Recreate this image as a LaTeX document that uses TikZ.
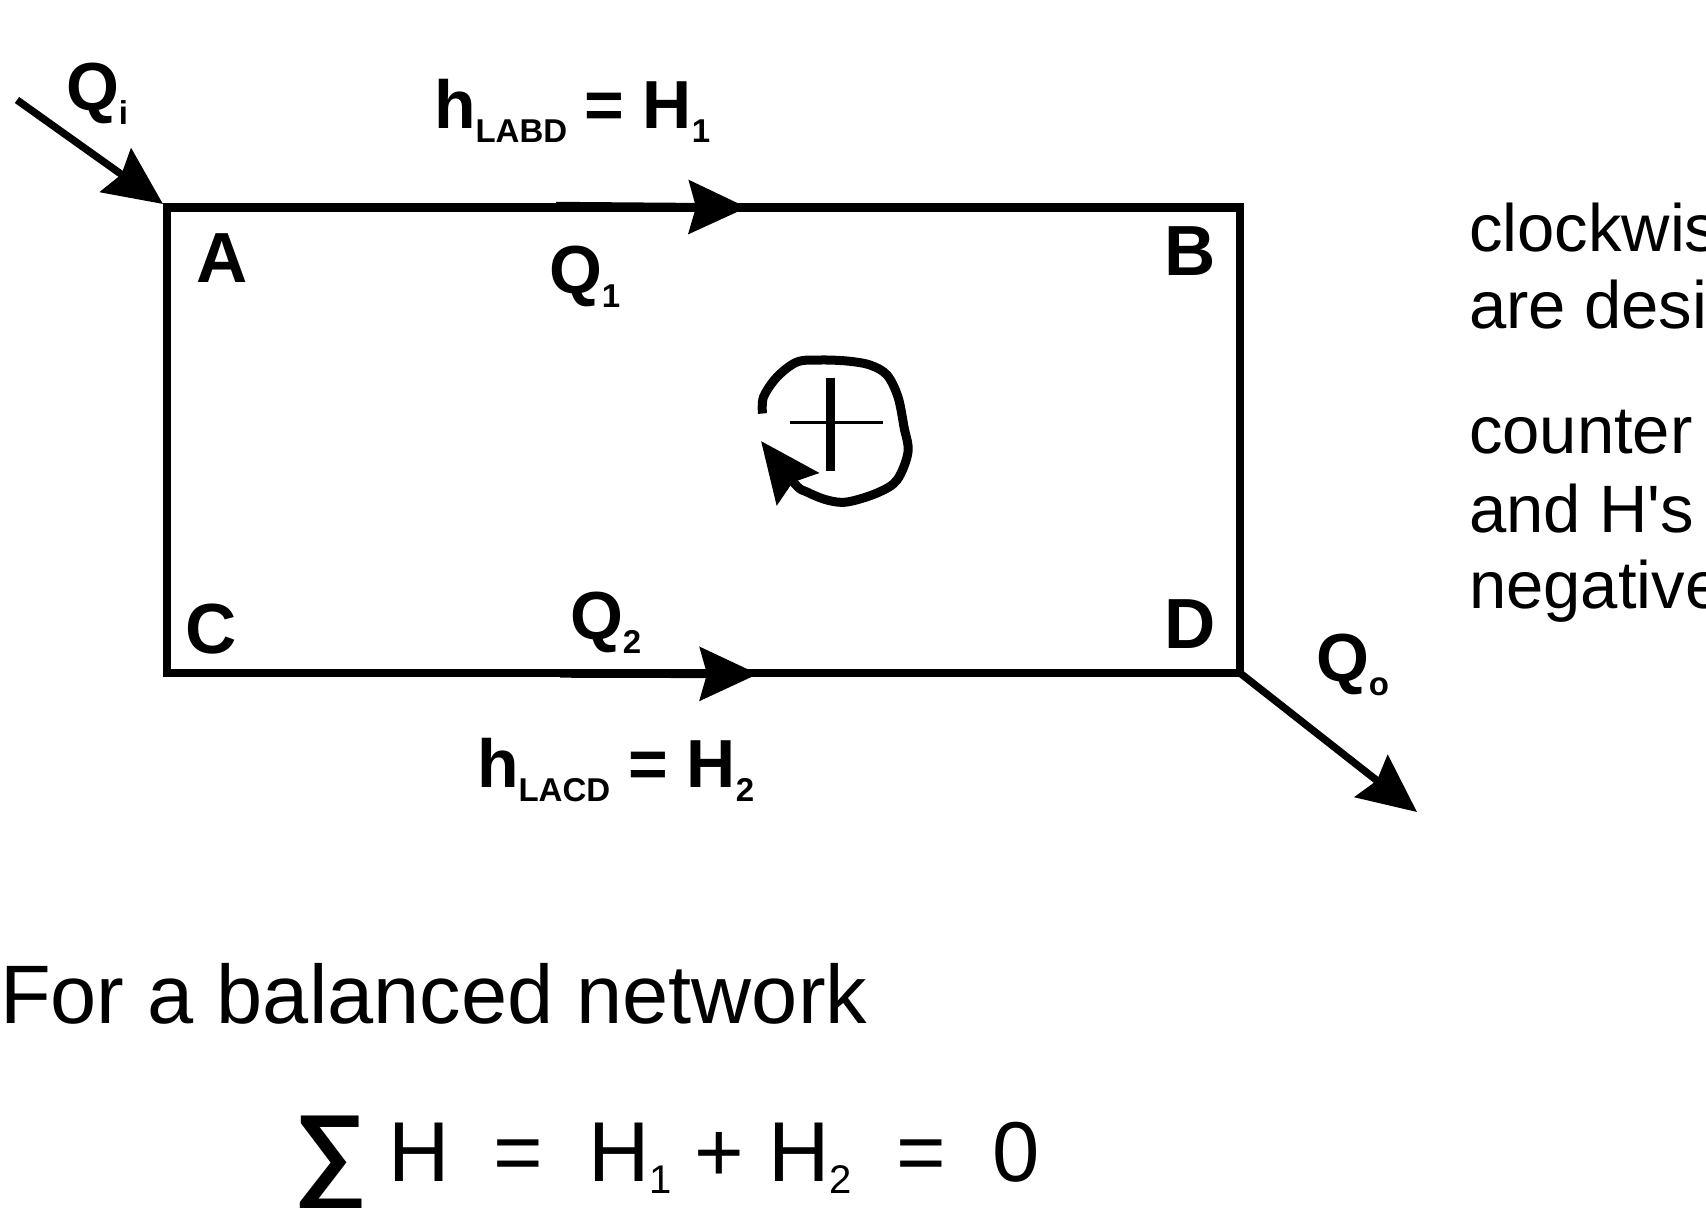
\documentclass[tikz,border=0pt]{standalone}
\usepackage{fontspec}
\setmainfont[Ligatures=TeXOff]{Liberation Sans}
\usetikzlibrary{arrows.meta}
\newcommand{\boldlab}{\fontsize{34pt}{40pt}\selectfont\bfseries}
\newcommand{\cornerlab}{\fontsize{35.5pt}{40pt}\selectfont\bfseries}
\newcommand{\lowlab}[1]{\raisebox{-7pt}{\fontsize{16.5pt}{20pt}\selectfont\bfseries #1}}
\newcommand{\lowplain}[1]{\raisebox{-6pt}{\fontsize{20pt}{24pt}\selectfont #1}}
\newcommand{\gapx}[1]{\hspace*{#1pt}}
\tikzset{
  x=0.5pt,y=-0.5pt,
  lab/.style={inner sep=0pt,outer sep=0pt,anchor=base west,font=\boldlab},
  cornertext/.style={inner sep=0pt,outer sep=0pt,anchor=base west,font=\cornerlab},
  plain/.style={inner sep=0pt,outer sep=0pt,anchor=base west},
  sidetext/.style={plain,font=\fontsize{33.5pt}{40pt}\selectfont},
  flowtip/.tip={Stealth[length=29pt,width=26.5pt,inset=3.5pt]},
  edge/.style={line width=4.4pt,miter limit=10},
  branch/.style={line width=3.7pt},
}
\begin{document}
\begin{tikzpicture}
\useasboundingbox (0,0) rectangle (1706,1207);
% junctions
\coordinate (cA) at (167,207.5);
\coordinate (cB) at (1240,207.5);
\coordinate (cC) at (167,673);
\coordinate (cD) at (1240,673);
\coordinate (qin) at (17,100);
\coordinate (qintip) at (163,204);
\coordinate (qout) at (1417,812);
\coordinate (t1) at (556,206);
\coordinate (t2) at (747,207.5);
\coordinate (b1) at (560,673.5);
\coordinate (b2) at (758,674);
% pipe loop
\draw[edge] (cA) -- (cB) -- (cD) -- (cC) -- cycle;
\draw[branch,-{flowtip}] (qin) -- (qintip);
\draw[branch,-{flowtip}] (cD) -- (qout);
\draw[line width=4.2pt,-{flowtip}] (t1) -- (t2);
\draw[line width=4.2pt,-{flowtip}] (b1) -- (b2);
% sign circle
\draw[line width=4.5pt,line join=round,-{Stealth[length=30pt,width=26pt,inset=4pt]}]
  plot[smooth,tension=0.55] coordinates {(762.5,413.5) (763.5,397) (777,377) (797,362) (820,360) (847,361) (870,365) (887,375) (898,397) (904,427) (908,452) (897,480) (877,493) (847,502) (827,500) (807,492) (795,484) (761,441)};
\draw[line width=4.5pt] (830.5,377.5) -- (830.5,471);
\draw[line width=1.7pt] (790,422.5) -- (883,422.5);
% labels
\node[lab] (Qi) at (66,110) {Q\lowlab{i}};
\node[lab] (h1) at (434,128) {h\lowlab{LABD}\gapx{8.5}=\gapx{9.4}H\lowlab{1}};
\node[cornertext] (labA) at (196,282) {A};
\node[cornertext] (labB) at (1164,275) {B};
\node[cornertext] (labC) at (185,653) {C};
\node[cornertext] (labD) at (1164,648) {D};
\node[lab] (Q1) at (549,293) {Q\lowlab{1}};
\node[lab] (Q2) at (570,639) {Q\lowlab{2}};
\node[lab] (Qo) at (1316,681) {Q\lowlab{o}};
\node[lab] (h2) at (477,787) {h\lowlab{LACD}\gapx{9}=\gapx{9.4}H\lowlab{2}};
% side text
\node[sidetext] (s1) at (1469,251) {clockwis};
\node[sidetext] (s2) at (1469,328) {are desi};
\node[sidetext] (s3) at (1469,453) {counter};
\node[sidetext] (s4) at (1469,532) {and H's};
\node[sidetext] (s5) at (1469,608) {negative};
% balance
\node[plain,font=\fontsize{41.5pt}{48pt}\selectfont] (bal) at (0,1023) {For a balanced network};
\node[plain,font=\fontsize{52pt}{56pt}\selectfont\bfseries] (sig) at (293,1187) {∑};
\node[plain,font=\fontsize{42.5pt}{48pt}\selectfont] (eq) at (388,1181) {H\gapx{22}=\gapx{22.5}H\lowplain{1}\gapx{11.5}+\gapx{12}H\lowplain{2}\gapx{22.5}=\gapx{23}0};
\end{tikzpicture}
\end{document}
